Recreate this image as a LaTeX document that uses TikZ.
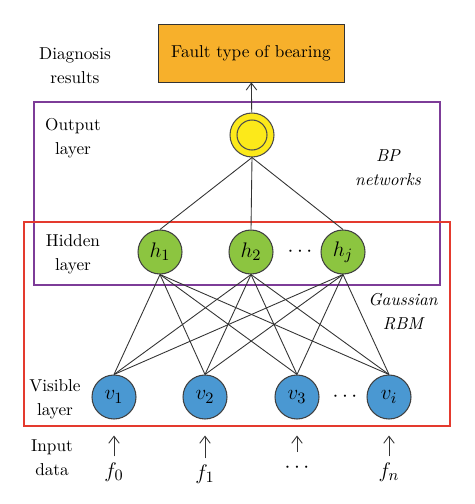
\documentclass[tikz,border=0pt]{standalone}
\usetikzlibrary{arrows.meta}
\definecolor{boxorange}{HTML}{F7B02B}
\definecolor{hidgreen}{HTML}{8CC540}
\definecolor{visblue}{HTML}{4A98D2}
\definecolor{outyellow}{HTML}{FCE91A}
\definecolor{bpviolet}{HTML}{7D3C98}
\definecolor{rbmred}{HTML}{E43A2E}
\tikzset{
  unit/.style={shape=circle,draw=black!75,line width=0.6pt,minimum size=0.88cm,inner sep=0pt,font=\fontsize{12.5}{15}\selectfont},
  hid/.style={unit,fill=hidgreen},
  vis/.style={unit,fill=visblue},
  lbl/.style={align=center,font=\fontsize{9.8}{13.6}\selectfont},
  link/.style={draw=black!80,line width=0.5pt},
  feed/.style={draw=black!80,line width=0.5pt,-{Straight Barb[length=4pt,width=6pt]}}
}
\begin{document}
\begin{tikzpicture}[x=0.02cm,y=-0.02cm]
  \useasboundingbox (0,0) rectangle (474,504);
  % frames
  \draw[bpviolet,line width=0.8pt] (34,102) rectangle (440,285);
  \draw[rbmred,line width=0.8pt] (24,222) rectangle (450,426);
  \node[draw=black!80,fill=boxorange,minimum width=3.72cm,minimum height=1.16cm,lbl] (fault) at (251,53) {Fault type of bearing};
  % units
  \node[unit,fill=outyellow,draw=black!70] (out) at (252,135) {};
  \draw[black!70,line width=0.6pt] (out) circle (0.3cm);
  \node[hid] (h1) at (160,252) {$h_1$};
  \node[hid] (h2) at (251,252) {$h_2$};
  \node[font=\fontsize{12.5}{15}\selectfont] (hdots) at (300,252) {$\cdots$};
  \node[hid] (hj) at (343,252) {$h_j$};
  \node[vis] (v1) at (114,397) {$v_1$};
  \node[vis] (v2) at (205,397) {$v_2$};
  \node[vis] (v3) at (297,397) {$v_3$};
  \node[font=\fontsize{12.5}{15}\selectfont] (vdots) at (345,397) {$\cdots$};
  \node[vis] (vi) at (389,397) {$v_i$};
  % inputs
  \node[font=\fontsize{12.5}{15}\selectfont] (f0) at (114,472) {$f_0$};
  \node[font=\fontsize{12.5}{15}\selectfont] (f1) at (205,474) {$f_1$};
  \node[font=\fontsize{12.5}{15}\selectfont] (fdots) at (297,468) {$\cdots$};
  \node[font=\fontsize{12.5}{15}\selectfont] (fn) at (389,472) {$f_n$};
  % side labels
  \node[lbl] (diag) at (75,66) {Diagnosis\\results};
  \node[lbl] (outl) at (73,138) {Output\\layer};
  \node[lbl] (hidl) at (73,254) {Hidden\\layer};
  \node[lbl] (visl) at (55,399) {Visible\\layer};
  \node[lbl] (inl) at (52,458) {Input\\data};
  \node[lbl,font=\fontsize{9.8}{13.6}\selectfont\itshape] (bpl) at (388,168) {BP\\networks};
  \node[lbl,font=\fontsize{9.8}{13.6}\selectfont\itshape] (rbml) at (403,312) {Gaussian\\RBM};
  % connections
  \path[feed] (out) -- (fault);
  \foreach \h in {h1,h2,hj}
    \path[link] (out.south) -- (\h.north);
  \foreach \h in {h1,h2,hj}
    \foreach \v in {v1,v2,v3,vi}
      \path[link] (\h.south) -- (\v.north);
  \path[feed,shorten <=0pt,shorten >=0.32cm] (f0) -- (v1);
  \path[feed,shorten <=0pt,shorten >=0.32cm] (f1) -- (v2);
  \path[feed,shorten <=0.1cm,shorten >=0.32cm] (fdots) -- (v3);
  \path[feed,shorten <=0pt,shorten >=0.32cm] (fn) -- (vi);
\end{tikzpicture}
\end{document}
